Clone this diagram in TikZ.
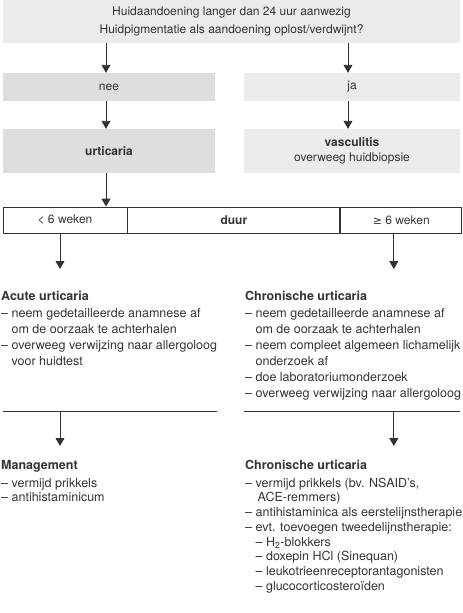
\documentclass[tikz,border=0pt]{standalone}
\usepackage{fontspec}
\setmainfont{TeX Gyre Heros}
\newfontfamily\symfont{DejaVu Sans}
\usepackage{tikz}
\usetikzlibrary{positioning,arrows.meta}
\definecolor{inkgray}{gray}{0.2}
\definecolor{fillpale}{gray}{0.92}
\definecolor{filldark}{gray}{0.87}
\newcommand{\ind}{\phantom{-- }}

\begin{document}
\begin{tikzpicture}[x=1pt,y=-1pt,
  every node/.style={font=\fontsize{12}{16}\selectfont,text=inkgray},
  greybox/.style={fill=fillpale,align=center,inner sep=0pt},
  darkbox/.style={greybox,fill=filldark},
  cell/.style={draw=inkgray,line width=0.9pt,minimum height=26,inner sep=0pt},
  textblock/.style={anchor=north west,align=left,inner xsep=0pt,inner ysep=#1,
    font=\fontsize{12.5}{16}\selectfont},
  textblock/.default=22pt,
  line/.style={draw=inkgray,line width=0.9pt},
  arr/.style={line,->},
  >={Triangle[width=9pt,length=8pt]}
]
  \useasboundingbox (0,0) rectangle (463,613);

  \node[greybox,minimum width=457,minimum height=43] (vraag) at (231.5,21.5)
    {Huidaandoening langer dan 24 uur aanwezig\\[2pt]Huidpigmentatie als aandoening oplost/verdwijnt?};

  \node[darkbox,minimum width=212,minimum height=28] (nee) at (109,87) {nee};
  \node[greybox,minimum width=216,minimum height=28] (ja) at (352,87) {ja};

  \node[darkbox,minimum width=212,minimum height=44] (urt) at (109,151) {\textbf{urticaria}};
  \node[greybox,minimum width=216,minimum height=44] (vasc) at (352,151)
    {\textbf{vasculitis}\\[-1pt]overweeg huidbiopsie};

  \node[cell,minimum width=124] (kort) at (65,220) {< 6 weken};
  \node[cell,minimum width=212,right=0pt of kort] (duur) {\textbf{duur}};
  \node[cell,minimum width=121,right=0pt of duur] (lang) {{\symfont\fontsize{11}{14}\selectfont ≥} 6 weken};

  \node[textblock] (acuut) at (1,269) {\textbf{Acute urticaria}\\[1pt]
    -- neem gedetailleerde anamnese af\\
    \ind om de oorzaak te achterhalen\\
    -- overweeg verwijzing naar allergoloog\\
    \ind voor huidtest};
  \node[textblock] (chron) at (245,269) {\textbf{Chronische urticaria}\\[1pt]
    -- neem gedetailleerde anamnese af\\
    \ind om de oorzaak te achterhalen\\
    -- neem compleet algemeen lichamelijk\\
    \ind onderzoek af\\
    -- doe laboratoriumonderzoek\\
    -- overweeg verwijzing naar allergoloog};

  \coordinate (scheidLa) at (3,411);
  \coordinate (scheidLb) at (217,411);
  \coordinate (scheidRa) at (244,411);
  \coordinate (scheidRb) at (460,411);

  \node[textblock=14pt,font=\fontsize{12.5}{14.7}\selectfont] (beheer) at (1,446)
    {\textbf{Management}\\[3pt]
    -- vermijd prikkels\\
    -- antihistaminicum};
  \node[textblock=14pt,font=\fontsize{12.5}{14.7}\selectfont] (therapie) at (245,446)
    {\textbf{Chronische urticaria}\\[3pt]
    -- vermijd prikkels (bv. NSAID’s,\\
    \ind\,ACE-remmers)\\
    -- antihistaminica als eerstelijnstherapie\\
    -- evt. toevoegen tweedelijnstherapie:\\
    \ind -- H\textsubscript{2}-blokkers\\
    \ind -- doxepin HCl (Sinequan)\\
    \ind -- leukotrieenreceptorantagonisten\\
    \ind -- glucocorticosteroïden};

  % pijlen bovenste deel
  \draw[arr] ([xshift=-3pt]nee.north |- vraag.south) -- ([xshift=-3pt]nee.north);
  \draw[arr] ([xshift=-4pt]ja.north |- vraag.south) -- ([xshift=-4pt]ja.north);
  \draw[arr] ([xshift=-3pt]nee.south) -- ([xshift=-3pt]urt.north);
  \draw[arr] ([xshift=-4pt]ja.south) -- ([xshift=-4pt]vasc.north);
  \draw[arr] ([xshift=-3pt]urt.south) -- ([xshift=-3pt]urt.south |- kort.north);

  % duur naar acuut / chronisch
  \draw[arr] ([xshift=-5pt]kort.south) -- ([xshift=-5pt]kort.south |- acuut.north);
  \draw[arr] ([xshift=-7.5pt]lang.south) -- ([xshift=-7.5pt]lang.south |- chron.north);

  \draw[line] (scheidLa) -- (scheidLb);
  \draw[line] (scheidRa) -- (scheidRb);
  \draw[arr] ([xshift=-5pt]kort.south |- scheidLa) -- ([xshift=-5pt]kort.south |- beheer.north);
  \draw[arr] ([xshift=-7.5pt]lang.south |- scheidRa) -- ([xshift=-7.5pt]lang.south |- therapie.north);
\end{tikzpicture}
\end{document}
